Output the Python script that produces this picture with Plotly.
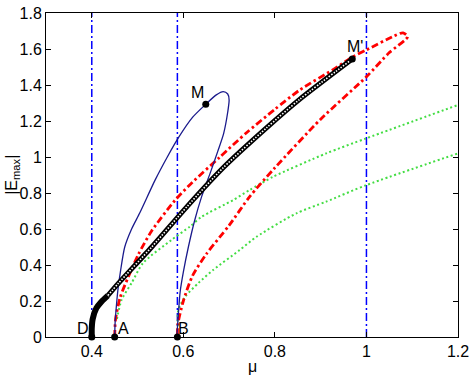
import plotly.graph_objects as go

# ---- data ----
blue_x = [0.450, 0.451, 0.453, 0.457, 0.463, 0.472, 0.487, 0.505, 0.538, 0.565, 0.590, 0.620, 0.649, 0.672, 0.687, 0.697, 0.700, 0.697, 0.688, 0.675, 0.660, 0.640, 0.625, 0.611, 0.600, 0.593, 0.589, 0.587, 0.586]
blue_y = [0.000, 0.080, 0.150, 0.260, 0.370, 0.500, 0.600, 0.690, 0.870, 1.000, 1.110, 1.220, 1.293, 1.345, 1.363, 1.350, 1.317, 1.250, 1.130, 1.030, 0.920, 0.780, 0.650, 0.500, 0.360, 0.250, 0.120, 0.050, 0.000]

red_x = [0.450, 0.452, 0.462, 0.480, 0.502, 0.531, 0.582, 0.620, 0.680, 0.738, 0.800, 0.854, 0.927, 0.969, 1.000, 1.060, 1.080, 1.090, 1.050, 1.000, 0.900, 0.800, 0.745, 0.700, 0.650, 0.620, 0.600, 0.588, 0.587]
red_y = [0.000, 0.100, 0.220, 0.335, 0.460, 0.590, 0.760, 0.860, 1.000, 1.135, 1.265, 1.372, 1.485, 1.555, 1.595, 1.672, 1.690, 1.668, 1.580, 1.446, 1.210, 0.940, 0.780, 0.620, 0.460, 0.340, 0.200, 0.070, 0.000]

green1_x = [0.455, 0.465, 0.487, 0.512, 0.574, 0.614, 0.640, 0.709, 0.745, 0.796, 0.912, 1.000, 1.200]
green1_y = [0.100, 0.206, 0.300, 0.411, 0.539, 0.613, 0.668, 0.761, 0.817, 0.890, 1.020, 1.104, 1.289]

green2_x = [0.588, 0.589, 0.604, 0.633, 0.665, 0.723, 0.760, 0.847, 0.912, 1.000, 1.200]
green2_y = [0.060, 0.150, 0.224, 0.300, 0.372, 0.483, 0.557, 0.687, 0.752, 0.844, 1.020]

dense_x = [0.400, 0.400, 0.402, 0.410, 0.421, 0.435]
dense_y = [0.000, 0.050, 0.100, 0.160, 0.196, 0.230]

ring_x = [0.435, 0.458, 0.531, 0.610, 0.687, 0.781, 0.854, 0.969]
ring_y = [0.230, 0.298, 0.500, 0.730, 0.940, 1.160, 1.320, 1.544]

vlines_x = [0.4, 0.587, 1.0]

pt_names = ["D", "A", "B", "M", "M'"]
pt_x = [0.400, 0.450, 0.587, 0.649, 0.969]
pt_y = [0.000, 0.000, 0.000, 1.293, 1.544]
lab_x = [0.381, 0.470, 0.601, 0.632, 0.976]
lab_y = [0.050, 0.045, 0.050, 1.360, 1.613]

x_ticks = [0.4, 0.6, 0.8, 1.0, 1.2]
x_tick_text = ["0.4", "0.6", "0.8", "1", "1.2"]
y_ticks = [0, 0.2, 0.4, 0.6, 0.8, 1.0, 1.2, 1.4, 1.6, 1.8]
y_tick_text = ["0", "0.2", "0.4", "0.6", "0.8", "1", "1.2", "1.4", "1.6", "1.8"]

x_title = "μ"
y_title = "|E<sub>max</sub>|"

fig = go.Figure()

for vx in vlines_x:
    fig.add_trace(go.Scatter(x=[vx, vx], y=[0, 1.8], mode="lines",
                             line=dict(color="#0000ff", width=1.5, dash="8px,3px,2px,3px")))

for gx, gy in ((green1_x, green1_y), (green2_x, green2_y)):
    fig.add_trace(go.Scatter(x=gx, y=gy, mode="lines",
                             line=dict(color="#44dd44", width=2, dash="2px,2.6px",
                                       shape="spline", smoothing=0.7)))

fig.add_trace(go.Scatter(x=red_x, y=red_y, mode="lines",
                         line=dict(color="#ff0000", width=2.8, dash="7px,3px,2.5px,3px",
                                   shape="spline", smoothing=0.7)))

fig.add_trace(go.Scatter(x=blue_x, y=blue_y, mode="lines",
                         line=dict(color="#1a1a8c", width=1.3, shape="spline", smoothing=0.7)))

fig.add_trace(go.Scatter(x=dense_x, y=dense_y, mode="lines",
                         line=dict(color="black", width=6, shape="spline", smoothing=0.7)))
fig.add_trace(go.Scatter(x=ring_x, y=ring_y, mode="lines",
                         line=dict(color="black", width=5, shape="spline", smoothing=0.7)))
fig.add_trace(go.Scatter(x=ring_x, y=ring_y, mode="lines",
                         line=dict(color="white", width=1.6, dash="1.5px,1.5px",
                                   shape="spline", smoothing=0.7)))

fig.add_trace(go.Scatter(x=pt_x, y=pt_y, mode="markers",
                         marker=dict(color="black", size=7), cliponaxis=False))

for name, lx, ly in zip(pt_names, lab_x, lab_y):
    fig.add_annotation(x=lx, y=ly, text=name, showarrow=False,
                       font=dict(size=16, color="black"), xanchor="center", yanchor="middle")

# axis titles placed as annotations (paper coords)
fig.add_annotation(xref="paper", yref="paper", x=-0.083, y=0.5, text=y_title,
                   textangle=-90, showarrow=False, font=dict(size=16, color="black"),
                   xanchor="center", yanchor="middle")
fig.add_annotation(xref="paper", yref="paper", x=0.5, y=-0.09, text=x_title,
                   showarrow=False, font=dict(size=16, color="black"),
                   xanchor="center", yanchor="middle")

axis_common = dict(showline=True, linecolor="black", linewidth=1, mirror="ticks",
                   ticks="inside", ticklen=5, tickcolor="black", showgrid=False,
                   zeroline=False, automargin=False, tickfont=dict(size=16, color="black"))

fig.update_layout(
    width=474, height=377,
    margin=dict(l=46, r=16, t=13, b=40),
    paper_bgcolor="white", plot_bgcolor="white",
    showlegend=False,
    font=dict(family="Liberation Sans, Arial, sans-serif", color="black"),
    xaxis=dict(range=[0.3, 1.2], tickvals=x_ticks, ticktext=x_tick_text, **axis_common),
    yaxis=dict(range=[0, 1.8], tickvals=y_ticks, ticktext=y_tick_text, **axis_common),
)

fig.write_html("out.html", config={"displayModeBar": False},
               post_script="document.body.style.margin='0';document.body.style.overflow='hidden';")
